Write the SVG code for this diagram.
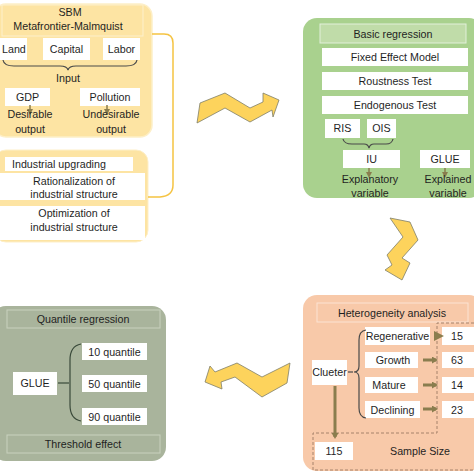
<svg xmlns="http://www.w3.org/2000/svg" width="474" height="474" viewBox="0 0 474 474">
<style>
text{font-family:"Liberation Sans",Arial,sans-serif;font-size:10.7px;fill:#1f1f1f;}
.c{text-anchor:middle;}
.w{fill:#ffffff;}
.zig{fill:#fdd35c;stroke:#7f7f6a;stroke-width:0.8;stroke-linejoin:miter;}
.br{fill:none;stroke:#4a4a4a;stroke-width:1.2;}
.thk{stroke:#8a7d4e;stroke-width:3;fill:none;}
</style>
<defs>
<marker id="ah" markerWidth="7" markerHeight="7" refX="4" refY="3.5" orient="auto" markerUnits="userSpaceOnUse">
<path d="M0,0 L6,3.5 L0,7 Z" fill="#8a7d4e"/>
</marker>
<marker id="sm" markerWidth="4" markerHeight="4" refX="2" refY="2" orient="auto">
<path d="M0,0 L4,2 L0,4 Z" fill="#8a7d4e"/>
</marker>
</defs>
<rect width="474" height="474" fill="#ffffff"/>

<g id="sbm">
<rect x="-6" y="4" width="158" height="133" rx="12" fill="#fde4a3" stroke="#fdefc8" stroke-width="1.5"/>
<rect x="2" y="5" width="141" height="31" fill="none" stroke="#fdf0cc" stroke-width="1"/>
<text class="c" x="70" y="16">SBM</text>
<text class="c" x="68" y="30">Metafrontier-Malmquist</text>
<rect class="w" x="0" y="38" width="27" height="22"/>
<text x="2" y="53">Land</text>
<rect class="w" x="43" y="38" width="47" height="22"/>
<text class="c" x="66.5" y="53">Capital</text>
<rect class="w" x="103" y="38" width="37" height="22"/>
<text class="c" x="121.5" y="53">Labor</text>
<path class="br" d="M3,60 Q4,66 14,66 H60 Q67,66 68,70 Q69,66 76,66 H126 Q136,66 137,60"/>
<text class="c" x="68" y="82">Input</text>
<rect class="w" x="5" y="88" width="45" height="18"/>
<text class="c" x="27.5" y="101">GDP</text>
<rect class="w" x="80" y="88" width="60" height="18"/>
<text class="c" x="110" y="101">Pollution</text>
<line x1="30" y1="105" x2="30" y2="112" stroke="#8a7d4e" stroke-width="1.5" marker-end="url(#sm)"/>
<line x1="107" y1="105" x2="107" y2="112" stroke="#8a7d4e" stroke-width="1.5" marker-end="url(#sm)"/>
<text class="c" x="30" y="118">Desirable</text>
<text class="c" x="30" y="133">output</text>
<text class="c" x="111" y="118">Undesirable</text>
<text class="c" x="111" y="133">output</text>
</g>

<g id="industrial">
<rect x="-6" y="150" width="154" height="92" rx="12" fill="#fde4a3" stroke="#fdefc8" stroke-width="1"/>
<rect class="w" x="5" y="157" width="128" height="14"/>
<text x="12" y="168">Industrial upgrading</text>
<rect class="w" x="0" y="173" width="145" height="27"/>
<text class="c" x="74" y="185">Rationalization of</text>
<text class="c" x="74" y="198">industrial structure</text>
<rect class="w" x="0" y="206" width="145" height="34"/>
<text class="c" x="74" y="217">Optimization of</text>
<text class="c" x="74" y="231">industrial structure</text>
</g>

<g id="basic">
<rect x="303" y="18" width="180" height="180" rx="14" fill="#a9d18e"/>
<rect x="320" y="24" width="146" height="19" fill="#c0dca9" stroke="#e2f0d9" stroke-width="1"/>
<text class="c" x="393" y="37.5">Basic regression</text>
<rect class="w" x="322" y="48" width="146" height="18"/>
<text class="c" x="395" y="61">Fixed Effect Model</text>
<rect class="w" x="322" y="72" width="146" height="18"/>
<text class="c" x="395" y="85">Roustness Test</text>
<rect class="w" x="322" y="96" width="146" height="18"/>
<text class="c" x="395" y="109">Endogenous Test</text>
<rect class="w" x="325" y="119" width="35" height="19"/>
<text class="c" x="342.5" y="132">RIS</text>
<rect class="w" x="367" y="119" width="29" height="19"/>
<text class="c" x="381.5" y="132">OIS</text>
<path class="br" d="M343,139 Q344,144 352,144 H364 Q368,144 369,148 Q370,144 374,144 H386 Q392,144 393,139"/>
<rect class="w" x="343" y="150" width="57" height="18"/>
<text class="c" x="371.5" y="163">IU</text>
<rect class="w" x="420" y="150" width="50" height="18"/>
<text class="c" x="445" y="163">GLUE</text>
<line x1="369" y1="168" x2="369" y2="175" stroke="#8a7d4e" stroke-width="1.5" marker-end="url(#sm)"/>
<line x1="445" y1="168" x2="445" y2="175" stroke="#8a7d4e" stroke-width="1.5" marker-end="url(#sm)"/>
<text class="c" x="370" y="183">Explanatory</text>
<text class="c" x="370" y="197">variable</text>
<text class="c" x="448" y="183">Explained</text>
<text class="c" x="448" y="197">variable</text>
</g>

<g id="hetero">
<rect x="303" y="295" width="180" height="176" rx="14" fill="#f8c9a9"/>
<rect x="317" y="303" width="151" height="19" fill="none" stroke="#fbe3d3" stroke-width="1"/>
<text class="c" x="392" y="316.5">Heterogeneity analysis</text>
<rect class="w" x="365" y="327" width="65" height="18"/>
<text class="c" x="397.5" y="340">Regenerative</text>
<rect class="w" x="365" y="352" width="53" height="16"/>
<text class="c" x="393" y="364">Growth</text>
<rect class="w" x="365" y="377" width="53" height="16"/>
<text class="c" x="389" y="389">Mature</text>
<rect class="w" x="365" y="401" width="55" height="17"/>
<text class="c" x="392.5" y="413.5">Declining</text>
<rect class="w" x="442" y="327" width="34" height="18"/>
<text class="c" x="457" y="340">15</text>
<rect class="w" x="442" y="352" width="34" height="16"/>
<text class="c" x="457" y="364">63</text>
<rect class="w" x="442" y="377" width="34" height="16"/>
<text class="c" x="457" y="389">14</text>
<rect class="w" x="442" y="401" width="34" height="17"/>
<text class="c" x="457" y="413.5">23</text>
<rect class="w" x="312" y="360" width="35" height="25"/>
<text class="c" x="329.5" y="376">Clueter</text>
<line x1="348" y1="372" x2="353" y2="372" stroke="#4a4a4a" stroke-width="1.2"/>
<path class="br" d="M366,330 Q359,331 359,340 V366 Q359,372 354,372 Q359,372 359,378 V408 Q359,417 366,418"/>
<rect class="w" x="315" y="442" width="38" height="18"/>
<text class="c" x="334" y="455">115</text>
<text class="c" x="420" y="455">Sample Size</text>
<path d="M474,323 H437 V433 H313 V470 H474" fill="none" stroke="#a6826b" stroke-width="1" stroke-dasharray="3,2"/>
</g>

<g id="quantile">
<rect x="-8" y="306" width="174" height="155" rx="14" fill="#a9b49c"/>
<rect x="7" y="310" width="153" height="18" fill="none" stroke="#c9d1be" stroke-width="1"/>
<text class="c" x="83" y="323">Quantile regression</text>
<rect class="w" x="82" y="343" width="65" height="17"/>
<text class="c" x="114.5" y="355.5">10 quantile</text>
<rect class="w" x="82" y="375" width="65" height="17"/>
<text class="c" x="114.5" y="387.5">50 quantile</text>
<rect class="w" x="82" y="408" width="65" height="17"/>
<text class="c" x="114.5" y="420.5">90 quantile</text>
<rect class="w" x="13" y="372" width="44" height="23"/>
<text class="c" x="35" y="387">GLUE</text>
<line x1="58" y1="383" x2="69" y2="383" stroke="#3a4a3a" stroke-width="1.2"/>
<path d="M81,344 Q70,346 70,360 V405 Q70,419 81,421" fill="none" stroke="#3a4a3a" stroke-width="1.2"/>
<rect x="7" y="435" width="153" height="18" fill="none" stroke="#c9d1be" stroke-width="1"/>
<text class="c" x="83" y="448">Threshold effect</text>
</g>

<g id="connectors">
<path d="M152,34 H164 Q173,34 173,43 V185 Q173,196 160,197 H148" fill="none" stroke="#f5c342" stroke-width="1.5"/>
<line class="thk" x1="423" y1="360" x2="436" y2="360" marker-end="url(#ah)"/>
<line class="thk" x1="423" y1="385" x2="436" y2="385" marker-end="url(#ah)"/>
<line class="thk" x1="423" y1="409" x2="436" y2="409" marker-end="url(#ah)"/>
<line x1="434" y1="336" x2="439" y2="336" stroke="#8a7d4e" stroke-width="2.5" marker-end="url(#sm)"/>
<line class="thk" x1="335" y1="386" x2="335" y2="437" marker-end="url(#ah)"/>
<polygon class="zig" points="200,103 225,93 250,108 263,102 263,93 279,100 273,117 272,110 250,122 225,108 197,123"/>
<polygon class="zig" points="390,218 410,222 418,240 402,258 410,263 402,280 385,270 392,265 387,255 403,237"/>
<polygon class="zig" points="205,382 210,366 215,372 237,363 262,377 290,363 287,383 262,397 235,377 221,382 222,389"/>
</g>
</svg>
